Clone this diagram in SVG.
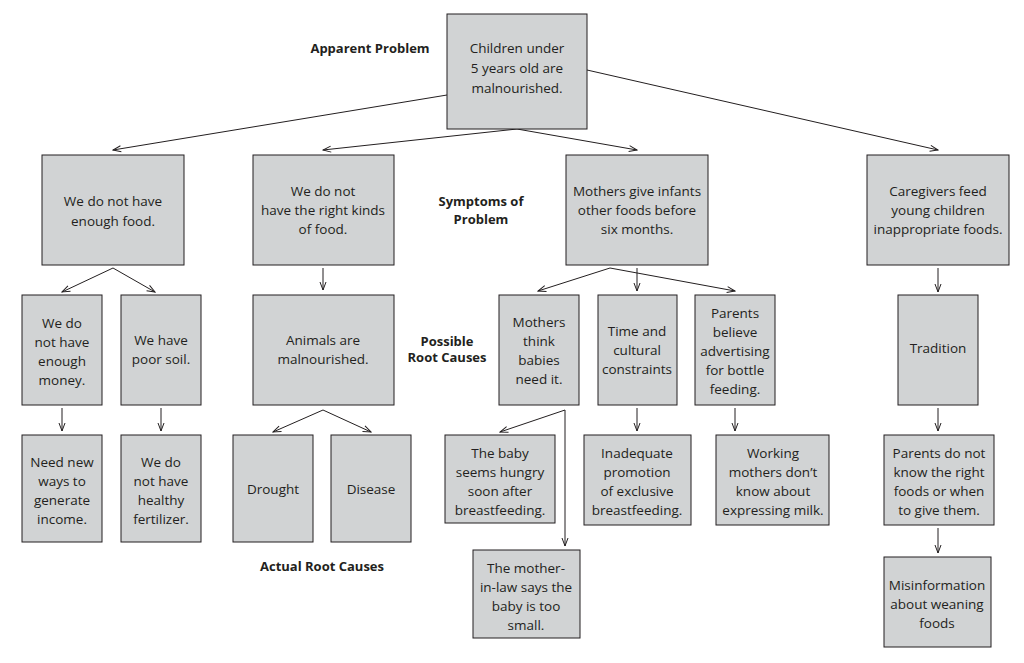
<svg xmlns="http://www.w3.org/2000/svg" width="1024" height="663" viewBox="0 0 1024 663">
<defs>
<marker id="ah" markerWidth="10" markerHeight="8" refX="9" refY="4" orient="auto" markerUnits="userSpaceOnUse">
<path d="M1,1 L9,4 L1,7" fill="none" stroke="#231f20" stroke-width="1"/>
</marker>
<style>
.b{fill:#d1d3d4;stroke:#231f20;stroke-width:1}
text{font-family:"Open Sans","Liberation Sans",sans-serif;font-size:13.5px;fill:#231f20;text-anchor:middle}
.h{font-weight:bold;font-size:13px}
.c line{stroke:#231f20;stroke-width:1;marker-end:url(#ah)}
</style>
</defs>
<rect width="1024" height="663" fill="#fff"/>
<text class="h" x="370" y="53">Apparent Problem</text>
<text class="h" x="481" y="206">Symptoms of</text>
<text class="h" x="481" y="224">Problem</text>
<text class="h" x="447" y="346">Possible</text>
<text class="h" x="447" y="362">Root Causes</text>
<text class="h" x="322" y="571">Actual Root Causes</text>
<g class="c">
<line x1="447" y1="95" x2="113" y2="150"/>
<line x1="517" y1="129" x2="323" y2="150"/>
<line x1="517" y1="129" x2="637" y2="150"/>
<line x1="587" y1="70" x2="938" y2="150"/>
<line x1="113" y1="268" x2="62" y2="292"/>
<line x1="113" y1="268" x2="155" y2="292"/>
<line x1="323" y1="268" x2="323" y2="290"/>
<line x1="323" y1="410" x2="273" y2="432"/>
<line x1="323" y1="410" x2="371" y2="432"/>
<line x1="610" y1="268" x2="538" y2="291"/>
<line x1="637" y1="268" x2="637" y2="291"/>
<line x1="610" y1="268" x2="735" y2="291"/>
<line x1="938" y1="268" x2="938" y2="292"/>
<line x1="62" y1="408" x2="62" y2="431"/>
<line x1="161" y1="408" x2="161" y2="431"/>
<line x1="637" y1="408" x2="637" y2="431"/>
<line x1="735" y1="408" x2="735" y2="431"/>
<line x1="938" y1="408" x2="938" y2="431"/>
<line x1="565" y1="410" x2="500" y2="432"/>
<line x1="565" y1="410" x2="565" y2="546"/>
<line x1="938" y1="528" x2="938" y2="553"/>
</g>
<g id="top"><rect class="b" x="447" y="14" width="140" height="115"/><text x="517" y="53">Children under</text><text x="517" y="73">5 years old are</text><text x="517" y="93">malnourished.</text></g>
<g id="a"><rect class="b" x="42" y="155" width="142" height="110"/><text x="113" y="206">We do not have</text><text x="113" y="226">enough food.</text></g>
<g id="b"><rect class="b" x="253" y="155" width="141" height="110"/><text x="323" y="196">We do not</text><text x="323" y="215">have the right kinds</text><text x="323" y="234">of food.</text></g>
<g id="c"><rect class="b" x="566" y="155" width="142" height="110"/><text x="637" y="196">Mothers give infants</text><text x="637" y="215">other foods before</text><text x="637" y="234">six months.</text></g>
<g id="d"><rect class="b" x="867" y="155" width="142" height="110"/><text x="938" y="196">Caregivers feed</text><text x="938" y="215">young children</text><text x="938" y="234">inappropriate foods.</text></g>
<g id="a1"><rect class="b" x="22" y="295" width="80" height="110"/><text x="62" y="328">We do</text><text x="62" y="347">not have</text><text x="62" y="366">enough</text><text x="62" y="385">money.</text></g>
<g id="a2"><rect class="b" x="121" y="295" width="80" height="110"/><text x="161" y="345">We have</text><text x="161" y="364">poor soil.</text></g>
<g id="b1"><rect class="b" x="253" y="295" width="141" height="110"/><text x="323" y="345">Animals are</text><text x="323" y="364">malnourished.</text></g>
<g id="c1"><rect class="b" x="499" y="295" width="80" height="110"/><text x="539" y="327">Mothers</text><text x="539" y="346">think</text><text x="539" y="365">babies</text><text x="539" y="384">need it.</text></g>
<g id="c2"><rect class="b" x="598" y="295" width="79" height="110"/><text x="637" y="336">Time and</text><text x="637" y="355">cultural</text><text x="637" y="374">constraints</text></g>
<g id="c3"><rect class="b" x="695" y="295" width="80" height="110"/><text x="735" y="318">Parents</text><text x="735" y="337">believe</text><text x="735" y="356">advertising</text><text x="735" y="375">for bottle</text><text x="735" y="394">feeding.</text></g>
<g id="d1"><rect class="b" x="898" y="295" width="80" height="110"/><text x="938" y="353">Tradition</text></g>
<g id="a1a"><rect class="b" x="22" y="435" width="80" height="107"/><text x="62" y="467">Need new</text><text x="62" y="486">ways to</text><text x="62" y="505">generate</text><text x="62" y="524">income.</text></g>
<g id="a2a"><rect class="b" x="121" y="435" width="80" height="107"/><text x="161" y="467">We do</text><text x="161" y="486">not have</text><text x="161" y="505">healthy</text><text x="161" y="524">fertilizer.</text></g>
<g id="b1a"><rect class="b" x="233" y="435" width="80" height="107"/><text x="273" y="494">Drought</text></g>
<g id="b1b"><rect class="b" x="331" y="435" width="80" height="107"/><text x="371" y="494">Disease</text></g>
<g id="c1a"><rect class="b" x="445" y="435" width="110" height="88"/><text x="500" y="458">The baby</text><text x="500" y="477">seems hungry</text><text x="500" y="496">soon after</text><text x="500" y="515">breastfeeding.</text></g>
<g id="c1b"><rect class="b" x="473" y="550" width="107" height="88"/><text x="526" y="573">The mother-</text><text x="526" y="592">in-law says the</text><text x="526" y="611">baby is too</text><text x="526" y="630">small.</text></g>
<g id="c2a"><rect class="b" x="584" y="435" width="107" height="90"/><text x="637" y="458">Inadequate</text><text x="637" y="477">promotion</text><text x="637" y="496">of exclusive</text><text x="637" y="515">breastfeeding.</text></g>
<g id="c3a"><rect class="b" x="716" y="435" width="113" height="90"/><text x="773" y="458">Working</text><text x="773" y="477">mothers don’t</text><text x="773" y="496">know about</text><text x="773" y="515">expressing milk.</text></g>
<g id="d1a"><rect class="b" x="884" y="435" width="110" height="90"/><text x="939" y="458">Parents do not</text><text x="939" y="477">know the right</text><text x="939" y="496">foods or when</text><text x="939" y="515">to give them.</text></g>
<g id="d1b"><rect class="b" x="884" y="557" width="107" height="90"/><text x="937" y="590">Misinformation</text><text x="937" y="609">about weaning</text><text x="937" y="628">foods</text></g>
</svg>
